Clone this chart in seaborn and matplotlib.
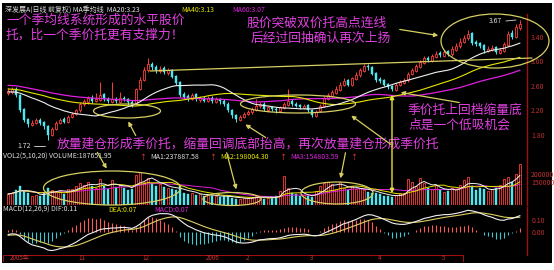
import numpy as np
import pandas as pd
import matplotlib
matplotlib.use("Agg")
import matplotlib.pyplot as plt
import seaborn as sns
from matplotlib.patches import Ellipse, Rectangle

# ---------------- data ----------------
pre_close = [2.78, 2.80, 2.76, 2.79, 2.82, 2.80, 2.77, 2.74, 2.76, 2.73,
             2.75, 2.72, 2.70, 2.73, 2.71, 2.68, 2.70, 2.67, 2.69, 2.66,
             2.64, 2.67, 2.65, 2.62, 2.64, 2.61, 2.63, 2.60, 2.62, 2.59,
             2.61, 2.58, 2.60, 2.57, 2.59, 2.56, 2.58, 2.55, 2.57, 2.54,
             2.56, 2.53, 2.55, 2.52, 2.54, 2.51, 2.53, 2.50, 2.52, 2.49,
             2.51, 2.48, 2.50, 2.47, 2.49, 2.46, 2.48, 2.45, 2.47, 2.50]

close = [2.52, 2.55, 2.45, 2.20, 2.05, 1.98, 2.00, 2.05, 2.00, 1.95,
         1.80, 1.90, 2.00, 2.05, 2.02, 2.10, 2.15, 2.20, 2.30, 2.35,
         2.40, 2.35, 2.38, 2.45, 2.38, 2.35, 2.38, 2.35, 2.40, 2.38,
         2.33, 2.30, 2.55, 2.70, 2.85, 2.95, 2.90, 2.85, 2.88, 2.82,
         2.85, 2.75, 2.65, 2.45, 2.42, 2.40, 2.45, 2.38, 2.40, 2.36,
         2.40, 2.35, 2.38, 2.35, 2.30, 2.20, 2.12, 2.06, 2.10, 2.15,
         2.18, 2.22, 2.28, 2.30, 2.22, 2.25, 2.22, 2.20, 2.25, 2.30,
         2.35, 2.30, 2.28, 2.25, 2.28, 2.20, 2.12, 2.18, 2.28, 2.40,
         2.45, 2.50, 2.55, 2.62, 2.68, 2.62, 2.72, 2.78, 2.85, 2.92,
         2.90, 2.80, 2.70, 2.68, 2.62, 2.58, 2.55, 2.62, 2.66, 2.70,
         2.80, 2.85, 2.92, 2.98, 3.05, 3.02, 3.08, 3.12, 3.10, 3.15,
         3.12, 3.20, 3.25, 3.32, 3.38, 3.45, 3.30, 3.28, 3.25, 3.18,
         3.20, 3.22, 3.15, 3.18, 3.28, 3.45, 3.40, 3.55, 3.60]

open_ = [2.48, 2.50, 2.55, 2.45, 2.22, 2.06, 1.97, 2.00, 2.05, 2.01,
         1.95, 1.80, 1.90, 2.00, 2.06, 2.02, 2.10, 2.15, 2.20, 2.30,
         2.34, 2.41, 2.35, 2.37, 2.46, 2.39, 2.34, 2.39, 2.34, 2.41,
         2.38, 2.34, 2.30, 2.55, 2.70, 2.86, 2.96, 2.91, 2.84, 2.89,
         2.81, 2.86, 2.76, 2.66, 2.46, 2.43, 2.39, 2.46, 2.37, 2.41,
         2.35, 2.41, 2.34, 2.38, 2.36, 2.31, 2.21, 2.13, 2.05, 2.09,
         2.14, 2.17, 2.21, 2.27, 2.31, 2.21, 2.26, 2.23, 2.19, 2.24,
         2.29, 2.36, 2.31, 2.29, 2.24, 2.29, 2.21, 2.11, 2.19, 2.28,
         2.39, 2.44, 2.49, 2.54, 2.61, 2.69, 2.61, 2.71, 2.77, 2.84,
         2.93, 2.91, 2.81, 2.71, 2.69, 2.63, 2.59, 2.54, 2.61, 2.65,
         2.69, 2.79, 2.84, 2.91, 2.97, 3.06, 3.01, 3.07, 3.13, 3.09,
         3.16, 3.11, 3.19, 3.24, 3.31, 3.37, 3.46, 3.31, 3.29, 3.26,
         3.17, 3.19, 3.23, 3.14, 3.17, 3.27, 3.46, 3.39, 3.54]

high = [2.56, 2.58, 2.58, 2.47, 2.24, 2.08, 2.04, 2.08, 2.07, 2.03,
        1.97, 1.93, 2.03, 2.08, 2.09, 2.13, 2.18, 2.23, 2.33, 2.38,
        2.44, 2.45, 2.48, 2.66, 2.49, 2.42, 2.66, 2.42, 2.50, 2.44,
        2.40, 2.37, 2.57, 2.74, 2.90, 3.05, 2.99, 2.94, 2.93, 2.92,
        2.89, 2.88, 2.78, 2.68, 2.50, 2.46, 2.49, 2.48, 2.44, 2.43,
        2.44, 2.43, 2.42, 2.40, 2.38, 2.33, 2.23, 2.15, 2.13, 2.18,
        2.21, 2.25, 2.38, 2.34, 2.33, 2.28, 2.28, 2.25, 2.28, 2.33,
        2.55, 2.38, 2.33, 2.31, 2.31, 2.31, 2.23, 2.21, 2.31, 2.43,
        2.49, 2.54, 2.59, 2.66, 2.72, 2.71, 2.75, 2.82, 2.89, 2.96,
        2.96, 2.93, 2.83, 2.74, 2.71, 2.65, 2.61, 2.65, 2.69, 2.73,
        2.83, 2.89, 2.96, 3.02, 3.09, 3.09, 3.12, 3.16, 3.16, 3.19,
        3.19, 3.24, 3.29, 3.37, 3.43, 3.50, 3.48, 3.34, 3.32, 3.28,
        3.24, 3.26, 3.25, 3.22, 3.31, 3.49, 3.50, 3.60, 3.67]

low = [2.45, 2.47, 2.42, 2.17, 2.02, 1.93, 1.95, 1.98, 1.97, 1.90,
       1.72, 1.78, 1.88, 1.98, 1.99, 2.00, 2.08, 2.13, 2.18, 2.28,
       2.31, 2.32, 2.33, 2.35, 2.35, 2.32, 2.32, 2.32, 2.32, 2.35,
       2.29, 2.26, 2.29, 2.53, 2.68, 2.83, 2.86, 2.81, 2.81, 2.79,
       2.78, 2.72, 2.62, 2.42, 2.38, 2.36, 2.37, 2.35, 2.34, 2.33,
       2.33, 2.32, 2.32, 2.31, 2.27, 2.17, 2.08, 2.02, 2.03, 2.07,
       2.12, 2.15, 2.19, 2.24, 2.19, 2.18, 2.19, 2.16, 2.17, 2.22,
       2.27, 2.27, 2.25, 2.22, 2.22, 2.17, 2.09, 2.09, 2.17, 2.26,
       2.37, 2.42, 2.47, 2.52, 2.59, 2.59, 2.59, 2.69, 2.75, 2.82,
       2.86, 2.77, 2.67, 2.65, 2.59, 2.55, 2.51, 2.52, 2.59, 2.63,
       2.67, 2.77, 2.82, 2.89, 2.95, 2.99, 2.99, 3.05, 3.07, 3.07,
       3.09, 3.09, 3.17, 3.22, 3.29, 3.35, 3.27, 3.24, 3.21, 3.14,
       3.15, 3.17, 3.12, 3.12, 3.15, 3.25, 3.36, 3.37, 3.50]

volume_k = [70, 80, 95, 120, 90, 75, 60, 65, 55, 80,
            110, 95, 85, 90, 70, 100, 105, 120, 140, 130,
            150, 120, 110, 170, 125, 100, 160, 115, 130, 110,
            95, 105, 190, 210, 150, 175, 140, 120, 135, 115,
            110, 100, 95, 120, 80, 70, 75, 65, 70, 60,
            65, 55, 60, 50, 55, 60, 45, 40, 38, 42,
            45, 50, 60, 55, 40, 45, 50, 55, 90, 185,
            110, 80, 70, 60, 65, 55, 50, 90, 120, 140,
            150, 135, 100, 145, 110, 95, 120, 100, 110, 95,
            85, 80, 75, 70, 60, 55, 50, 65, 75, 80,
            170, 150, 120, 175, 140, 110, 100, 130, 95, 85,
            90, 110, 100, 130, 160, 180, 120, 95, 110, 100,
            90, 100, 110, 130, 165, 180, 150, 200, 260]

date_ticks = [0, 17, 33, 49, 59, 75, 92, 108]
date_labels = ["2005年", "11", "12", "2006", "2", "3", "4", "5"]
price_ticks = [3.40, 3.00, 2.60, 2.20, 1.80]
price_tick_labels = ["3.40", "3.00", "2.60", "2.20", "1.80"]
vol_ticks = [150, 200]
vol_tick_labels = ["150000", "200000"]
macd_ticks = [0.0, 0.10]
macd_tick_labels = ["0.00", "0.10"]

# ---------------- style ----------------
sns.set_theme(style="dark", rc={"axes.facecolor": "black", "figure.facecolor": "white",
                                 "axes.edgecolor": "black", "grid.color": "black"})
plt.rcParams['font.family'] = ['Noto Sans CJK SC', 'DejaVu Sans']
plt.rcParams['axes.unicode_minus'] = False

RED = '#ff3c3c'
CYAN = '#50e8f0'
WHITE = '#f0f0f0'
YEL = '#e6e600'
MAG = '#e020e0'
ANN = '#d6cf62'
PINK = '#e040e0'
DRED = '#a01010'

W, H = 554, 270
fig = plt.figure(figsize=(W / 100, H / 100), dpi=100)
fig.patch.set_facecolor('white')


def rect(x0, y0, x1, y1):
    return [x0 / W, 1 - y1 / H, (x1 - x0) / W, (y1 - y0) / H]


# black screen area behind all panels
bg = fig.add_axes(rect(2, 3, 552, 263))
bg.set_facecolor('black')
bg.set_xticks([])
bg.set_yticks([])
for s in bg.spines.values():
    s.set_visible(False)
bg.set_zorder(-5)

o = np.array(open_)
c = np.array(close)
hi = np.array(high)
lo = np.array(low)
v = np.array(volume_k, dtype=float)
N = len(c)
idx = np.arange(N)
up = c >= o
XL = (-1.25, 129.75)

full = pd.Series(pre_close + close)
ma20 = full.rolling(20).mean().values[len(pre_close):]
ma40 = full.rolling(40).mean().values[len(pre_close):]
ma60 = full.rolling(60).mean().values[len(pre_close):]


def clean(ax):
    ax.patch.set_alpha(0)
    ax.set_xlim(*XL)
    ax.set_xticks([])
    ax.grid(False)
    for s in ['top', 'left', 'bottom']:
        ax.spines[s].set_visible(False)
    ax.spines['right'].set_color(DRED)
    ax.spines['right'].set_linewidth(1.0)
    ax.yaxis.tick_right()
    ax.tick_params(axis='y', length=0, pad=3, labelsize=5, labelcolor='#c03030')


# ---------------- price panel ----------------
ax = fig.add_axes(rect(3, 14, 527, 152))
clean(ax)
ax.set_ylim(1.525, 3.768)
ax.vlines(idx, lo, hi, colors=np.where(up, RED, CYAN), linewidth=0.7, zorder=2)
ax.bar(idx[up], (c - o)[up], bottom=o[up], width=0.62, facecolor='black', edgecolor=RED,
       linewidth=0.6, zorder=3)
ax.bar(idx[~up], (o - c)[~up], bottom=c[~up], width=0.62, color=CYAN, edgecolor=CYAN,
       linewidth=0.3, zorder=3)
sns.lineplot(x=idx, y=ma60, ax=ax, color=MAG, linewidth=0.9, legend=False, zorder=4)
sns.lineplot(x=idx, y=ma40, ax=ax, color=YEL, linewidth=0.8, legend=False, zorder=4)
sns.lineplot(x=idx, y=ma20, ax=ax, color=WHITE, linewidth=0.8, legend=False, zorder=4)
ax.set_yticks(price_ticks)
ax.set_yticklabels(price_tick_labels)
ax.set_ylabel('')

# ---------------- volume panel ----------------
axv = fig.add_axes(rect(3, 152, 527, 205))
clean(axv)
axv.set_ylim(0, 340)
axv.bar(idx[up], v[up], width=0.62, facecolor='black', edgecolor=RED, linewidth=0.6)
axv.bar(idx[~up], v[~up], width=0.62, color=CYAN, edgecolor=CYAN, linewidth=0.3)
vs = pd.Series(volume_k, dtype=float)
sns.lineplot(x=idx, y=vs.rolling(20, min_periods=1).mean().values, ax=axv, color=MAG,
             linewidth=0.7, legend=False)
sns.lineplot(x=idx, y=vs.rolling(10, min_periods=1).mean().values, ax=axv, color=YEL,
             linewidth=0.7, legend=False)
sns.lineplot(x=idx, y=vs.rolling(5, min_periods=1).mean().values, ax=axv, color=WHITE,
             linewidth=0.7, legend=False)
axv.axhline(0, color='#c02060', linewidth=0.8)
axv.set_yticks(vol_ticks)
axv.set_yticklabels(vol_tick_labels)
axv.set_ylabel('')

# ---------------- MACD panel ----------------
axm = fig.add_axes(rect(3, 207, 527, 255))
clean(axm)
ema12 = full.ewm(span=12, adjust=False).mean()
ema26 = full.ewm(span=26, adjust=False).mean()
dif_full = ema12 - ema26
dea_full = dif_full.ewm(span=9, adjust=False).mean()
dif = dif_full.values[len(pre_close):]
dea = dea_full.values[len(pre_close):]
macd = 2 * (dif - dea)
axm.set_ylim(-0.21, 0.22)
axm.vlines(idx, 0, macd, colors=np.where(macd >= 0, '#ff5a5a', '#40c8d0'), linewidth=0.8)
sns.lineplot(x=idx, y=dea, ax=axm, color='#e0d060', linewidth=0.8, legend=False)
sns.lineplot(x=idx, y=dif, ax=axm, color=WHITE, linewidth=0.8, legend=False)
axm.set_yticks(macd_ticks)
axm.set_yticklabels(macd_tick_labels)
axm.set_ylabel('')

# ---------------- date bar ----------------
axd = fig.add_axes(rect(3, 255, 527, 262))
axd.patch.set_alpha(0)
axd.set_xlim(*XL)
axd.set_ylim(0, 1)
axd.axis('off')
axd.add_patch(Rectangle((XL[0], 0.05), 113.75 - XL[0], 0.9, facecolor='none', edgecolor=DRED,
                        linewidth=0.8))
for t, lab in zip(date_ticks, date_labels):
    axd.text(t + 0.5, 0.5, lab, color='#d03030', fontsize=4.5, va='center', ha='left')

# ---------------- overlay: texts & annotations (pixel coords) ----------------
ov = fig.add_axes([0, 0, 1, 1])
ov.set_xlim(0, W)
ov.set_ylim(H, 0)
ov.axis('off')
ov.patch.set_alpha(0)
ov.set_zorder(10)

# header lines
ov.text(5, 10, "深发展A(日线 前复权) MA季均线  MA20:3.23", color='#e0e0e0', fontsize=5, va='center')
ov.text(181, 10, "MA40:3.13", color=YEL, fontsize=5, va='center')
ov.text(232, 10, "MA60:3.07", color=MAG, fontsize=5, va='center')
ov.text(3, 157, "VOL2(5,10,20) VOLUME:187651.95", color='#e0e0e0', fontsize=5, va='center')
ov.text(139, 157, "↑", color=RED, fontsize=5, va='center')
ov.text(150, 157, "MA1:237887.58", color='#e0e0e0', fontsize=5, va='center')
ov.text(209, 157, "↑", color=RED, fontsize=5, va='center')
ov.text(220, 157, "MA2:198004.30", color=YEL, fontsize=5, va='center')
ov.text(279, 157, "↑", color=RED, fontsize=5, va='center')
ov.text(290, 157, "MA3:154803.59", color=MAG, fontsize=5, va='center')
ov.text(350, 157, "↑", color=RED, fontsize=5, va='center')
ov.text(3, 210, "MACD(12,26,9) DIF:0.11", color='#e0e0e0', fontsize=5, va='center')
ov.text(108, 210, "DEA:0.07", color=YEL, fontsize=5, va='center')
ov.text(154, 210, "MACD:0.07", color=MAG, fontsize=5, va='center')

# price extremes
ov.text(489, 21, "3.67", color='#e0e0e0', fontsize=5, va='center')
ov.plot([506, 516], [21, 20], color='#e0e0e0', linewidth=0.6)
ov.text(17, 146, "1.72", color='#e0e0e0', fontsize=5, va='center')
ov.plot([34, 45], [146, 146], color='#e0e0e0', linewidth=0.6)

# magenta comments
tk = dict(color=PINK, fontsize=9.2, fontweight='normal', va='center', ha='left')
ov.text(6, 20, "一个季均线系统形成的水平股价", **tk)
ov.text(6, 35, "托，比一个季价托更有支撑力！", **tk)
ov.text(247, 23, "股价突破双价托高点连线", **tk)
ov.text(251, 38, "后经过回抽确认再次上扬", **tk)
ov.text(408, 110, "季价托上回档缩量底", **tk)
ov.text(408, 125, "点是一个低吸机会", **tk)
ov.text(57, 144, "放量建仓形成季价托，缩量回调底部抬高，再次放量建仓形成季价托", **tk)

# support line and ellipses
ov.plot([150, 532], [71, 58], color=ANN, linewidth=0.9)
for (cx, cy, ew, eh) in [(127, 111, 67, 14), (298, 104, 115, 18), (495, 41, 108, 54),
                         (112, 188, 137, 34), (232, 199, 58, 13), (337, 193, 72, 22)]:
    ov.add_patch(Ellipse((cx, cy), ew, eh, facecolor='none', edgecolor=ANN, linewidth=0.9))

# arrows
arr = dict(arrowstyle='-|>', color=ANN, linewidth=0.9, mutation_scale=6)
for (x0, y0, x1, y1) in [(397, 29, 441, 36), (137, 138, 127, 119), (268, 139, 243, 123),
                         (393, 146, 349, 114), (462, 103, 398, 92), (96, 150, 108, 171),
                         (226, 150, 237, 192), (346, 150, 340, 181)]:
    ov.annotate('', xy=(x1, y1), xytext=(x0, y0), arrowprops=arr)
ov.annotate('', xy=(392, 92), xytext=(392, 196),
            arrowprops=dict(arrowstyle='<|-|>', color='#e8e040', linewidth=1.0, mutation_scale=6))

fig.savefig('out.png', dpi=100, facecolor=fig.get_facecolor())
